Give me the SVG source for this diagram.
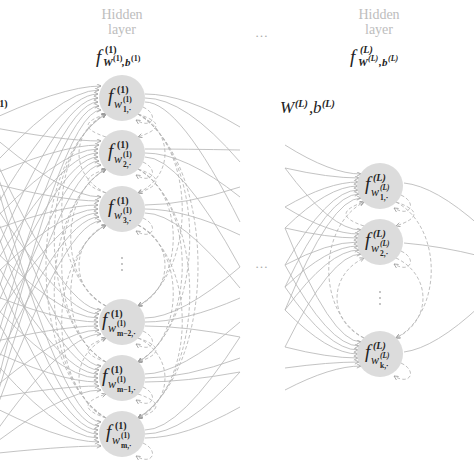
<svg xmlns="http://www.w3.org/2000/svg" width="474" height="474" viewBox="0 0 474 474" font-family="'Liberation Serif', 'DejaVu Serif', 'Times New Roman', serif">
<style>
.bg{fill:#fff}
.in{fill:none;stroke:#b8b8b8;stroke-width:0.85;marker-end:url(#ah)}
.out{fill:none;stroke:#b8b8b8;stroke-width:0.85}
.ds{fill:none;stroke:#b4b4b4;stroke-width:0.85;stroke-dasharray:3.5 2.2;marker-end:url(#ah)}
.node{fill:#dcdcdc}
text{font-family:'Liberation Serif','DejaVu Serif','Times New Roman',serif;fill:#222}
.hl{font-size:14px;fill:#bdbdbd;text-anchor:middle}
.dots{font-size:13px;fill:#aaa}
.nf{font-size:19px;font-style:italic}
.ns{font-size:10px;font-weight:bold}
.nw{font-size:12px;font-style:italic}
.nss{font-size:7.5px;font-weight:bold}
.lf{font-size:19px;font-style:italic}
.ls{font-size:10px;font-weight:bold}
.lw{font-size:11px;font-style:italic;font-weight:bold}
.lws{font-size:8px;font-weight:bold}
.bw{font-size:17px;font-style:italic}
.bs{font-size:10px;font-weight:bold}
.vd{fill:#aaa}
</style>
<defs>
<marker id="ah" viewBox="0 0 6 6" refX="5.5" refY="3" markerWidth="5" markerHeight="5" orient="auto" markerUnits="userSpaceOnUse"><path d="M0.5,0.5 L5.5,3 L0.5,5.5" fill="none" stroke="#999" stroke-width="0.9"/></marker>
</defs>
<rect class="bg" x="0" y="0" width="474" height="474"/>

<g id="labels">
<text class="hl" x="122" y="19">Hidden</text>
<text class="hl" x="122" y="34">layer</text>
<text class="hl" x="379" y="19">Hidden</text>
<text class="hl" x="379" y="34">layer</text>
<text class="dots" x="255" y="37">…</text>
<text class="dots" x="255" y="268">…</text>
<text><tspan class="lf" x="96" y="63">f</tspan><tspan class="ls" x="105" y="53">(1)</tspan><tspan class="lw" x="103" y="66">W</tspan><tspan class="lws" x="113" y="61">(1)</tspan><tspan class="lw" x="122" y="66">,</tspan><tspan class="lw" x="125" y="66">b</tspan><tspan class="lws" x="131" y="61">(1)</tspan></text>
<text><tspan class="lf" x="350" y="63">f</tspan><tspan class="ls" x="360" y="53" font-style="italic">(L)</tspan><tspan class="lw" x="358" y="66">W</tspan><tspan class="lws" x="368" y="61" font-style="italic">(L)</tspan><tspan class="lw" x="379" y="66">,</tspan><tspan class="lw" x="382" y="66">b</tspan><tspan class="lws" x="388" y="61" font-style="italic">(L)</tspan></text>
<text><tspan class="bw" x="280" y="113">W</tspan><tspan class="bs" x="295" y="107" font-style="italic">(L)</tspan><tspan class="bw" x="309" y="113" font-style="normal">,</tspan><tspan class="bw" x="313" y="113">b</tspan><tspan class="bs" x="322" y="107" font-style="italic">(L)</tspan></text>
<text class="bs" x="-4" y="107">(1)</text>
<circle class="vd" cx="122" cy="258" r="0.9"/><circle class="vd" cx="122" cy="264" r="0.9"/><circle class="vd" cx="122" cy="270" r="0.9"/>
<circle class="vd" cx="380" cy="292" r="0.9"/><circle class="vd" cx="380" cy="298" r="0.9"/><circle class="vd" cx="380" cy="304" r="0.9"/>
</g>

<g id="connectors">
<g id="inputs-layer1">
<path class="in" d="M-20,125 Q61,86 101,86"/><path class="in" d="M-20,180 Q59,90 99,90"/><path class="in" d="M-20,235 Q58,94 98,94"/><path class="in" d="M-20,290 Q58,98 98,98"/><path class="in" d="M-20,345 Q58,102 98,102"/><path class="in" d="M-20,400 Q59,106 99,106"/><path class="in" d="M-20,455 Q61,110 101,110"/>
<path class="in" d="M-20,125 Q61,141 101,141"/><path class="in" d="M-20,180 Q59,145 99,145"/><path class="in" d="M-20,235 Q58,149 98,149"/><path class="in" d="M-20,290 Q58,153 98,153"/><path class="in" d="M-20,345 Q58,157 98,157"/><path class="in" d="M-20,400 Q59,161 99,161"/><path class="in" d="M-20,455 Q61,165 101,165"/>
<path class="in" d="M-20,125 Q61,197 101,197"/><path class="in" d="M-20,180 Q59,201 99,201"/><path class="in" d="M-20,235 Q58,205 98,205"/><path class="in" d="M-20,290 Q58,209 98,209"/><path class="in" d="M-20,345 Q58,213 98,213"/><path class="in" d="M-20,400 Q59,217 99,217"/><path class="in" d="M-20,455 Q61,221 101,221"/>
<path class="in" d="M-20,125 Q61,310 101,310"/><path class="in" d="M-20,180 Q59,314 99,314"/><path class="in" d="M-20,235 Q58,318 98,318"/><path class="in" d="M-20,290 Q58,322 98,322"/><path class="in" d="M-20,345 Q58,326 98,326"/><path class="in" d="M-20,400 Q59,330 99,330"/><path class="in" d="M-20,455 Q61,334 101,334"/>
<path class="in" d="M-20,125 Q61,366 101,366"/><path class="in" d="M-20,180 Q59,370 99,370"/><path class="in" d="M-20,235 Q58,374 98,374"/><path class="in" d="M-20,290 Q58,378 98,378"/><path class="in" d="M-20,345 Q58,382 98,382"/><path class="in" d="M-20,400 Q59,386 99,386"/><path class="in" d="M-20,455 Q61,390 101,390"/>
<path class="in" d="M-20,125 Q61,422 101,422"/><path class="in" d="M-20,180 Q59,426 99,426"/><path class="in" d="M-20,235 Q58,430 98,430"/><path class="in" d="M-20,290 Q58,434 98,434"/><path class="in" d="M-20,345 Q58,438 98,438"/><path class="in" d="M-20,400 Q59,442 99,442"/><path class="in" d="M-20,455 Q61,446 101,446"/>
</g>
<g id="outputs-layer1">
<path class="out" d="M145,94 Q185,94 240,127"/><path class="out" d="M145,98 Q185,98 240,162"/><path class="out" d="M145,102 Q180,102 240,222"/>
<path class="out" d="M145,149 Q185,149 240,150"/><path class="out" d="M145,153 Q185,153 240,197"/><path class="out" d="M145,157 Q180,157 240,267"/>
<path class="out" d="M145,205 Q185,205 240,187"/><path class="out" d="M145,209 Q185,209 240,235"/><path class="out" d="M145,213 Q180,213 240,288"/>
<path class="out" d="M145,318 Q180,318 240,267"/><path class="out" d="M145,322 Q185,322 240,298"/><path class="out" d="M145,326 Q185,326 240,337"/>
<path class="out" d="M145,374 Q180,374 240,322"/><path class="out" d="M145,378 Q185,378 240,358"/><path class="out" d="M145,382 Q185,382 240,372"/>
<path class="out" d="M145,430 Q180,430 240,337"/><path class="out" d="M145,434 Q185,434 240,372"/><path class="out" d="M145,438 Q185,438 240,407"/>
</g>
<g id="inputs-layerL">
<path class="in" d="M285,145 Q331,174 361,174"/><path class="in" d="M285,168 Q329,178 359,178"/><path class="in" d="M285,207 Q328,182 358,182"/><path class="in" d="M285,228 Q328,186 358,186"/><path class="in" d="M285,265 Q328,190 358,190"/><path class="in" d="M285,287 Q329,194 359,194"/><path class="in" d="M285,310 Q331,198 361,198"/>
<path class="in" d="M285,168 Q331,230 361,230"/><path class="in" d="M285,207 Q329,234 359,234"/><path class="in" d="M285,228 Q328,238 358,238"/><path class="in" d="M285,265 Q328,242 358,242"/><path class="in" d="M285,287 Q328,246 358,246"/><path class="in" d="M285,310 Q329,250 359,250"/><path class="in" d="M285,347 Q331,254 361,254"/>
<path class="in" d="M285,228 Q331,342 361,342"/><path class="in" d="M285,265 Q329,346 359,346"/><path class="in" d="M285,287 Q328,350 358,350"/><path class="in" d="M285,310 Q328,354 358,354"/><path class="in" d="M285,347 Q328,358 358,358"/><path class="in" d="M285,368 Q329,362 359,362"/><path class="in" d="M285,390 Q331,366 361,366"/>
</g>
<g id="outputs-layerL">
<path class="out" d="M404,183 Q435,186 480,226"/><path class="out" d="M404,243 Q440,246 480,256"/><path class="out" d="M404,352 Q435,348 480,306"/>
</g>
<g id="recurrent-layer1">
<path class="ds" d="M138,114 C162,122 162,129 138,137"/><path class="ds" d="M138,114 C174,131 174,176 138,193"/><path class="ds" d="M138,114 C197,148 197,272 138,306"/><path class="ds" d="M138,114 C207,156 207,320 138,362"/><path class="ds" d="M138,114 C218,164 218,368 138,418"/>
<path class="ds" d="M138,169 C162,177 162,185 138,193"/><path class="ds" d="M138,169 C185,194 185,281 138,306"/><path class="ds" d="M138,169 C197,203 197,328 138,362"/><path class="ds" d="M138,169 C207,211 207,376 138,418"/>
<path class="ds" d="M138,225 C174,242 174,289 138,306"/><path class="ds" d="M138,225 C185,250 185,337 138,362"/><path class="ds" d="M138,225 C197,259 197,384 138,418"/>
<path class="ds" d="M138,338 C162,346 162,354 138,362"/><path class="ds" d="M138,338 C174,355 174,401 138,418"/><path class="ds" d="M138,394 C162,402 162,410 138,418"/>
<path class="ds" d="M106,137 C82,129 82,122 106,114"/><path class="ds" d="M106,193 C70,176 70,131 106,114"/><path class="ds" d="M106,306 C47,272 47,148 106,114"/><path class="ds" d="M106,362 C37,320 37,156 106,114"/><path class="ds" d="M106,418 C26,368 26,164 106,114"/>
<path class="ds" d="M106,193 C82,185 82,177 106,169"/><path class="ds" d="M106,306 C59,281 59,194 106,169"/><path class="ds" d="M106,362 C47,328 47,203 106,169"/><path class="ds" d="M106,418 C37,376 37,211 106,169"/>
<path class="ds" d="M106,306 C70,289 70,242 106,225"/><path class="ds" d="M106,362 C59,337 59,250 106,225"/><path class="ds" d="M106,418 C47,384 47,259 106,225"/>
<path class="ds" d="M106,362 C82,354 82,346 106,338"/><path class="ds" d="M106,418 C70,401 70,355 106,338"/><path class="ds" d="M106,418 C82,410 82,402 106,394"/>
<path class="ds" d="M143,107 C160,115 152,130 136,120"/><path class="ds" d="M143,162 C160,170 152,185 136,175"/><path class="ds" d="M143,218 C160,226 152,241 136,231"/><path class="ds" d="M143,331 C160,339 152,354 136,344"/><path class="ds" d="M143,387 C160,395 152,410 136,400"/><path class="ds" d="M143,443 C160,451 152,466 136,456"/>
</g>
<g id="recurrent-layerL">
<path class="ds" d="M396,202 C420,210 420,218 396,226"/><path class="ds" d="M396,202 C443,227 443,313 396,338"/><path class="ds" d="M396,258 C432,275 432,321 396,338"/>
<path class="ds" d="M364,226 C340,218 340,210 364,202"/><path class="ds" d="M364,338 C317,313 317,227 364,202"/><path class="ds" d="M364,338 C328,321 328,275 364,258"/>
<path class="ds" d="M401,195 C418,203 410,218 394,208"/><path class="ds" d="M401,251 C418,259 410,274 394,264"/><path class="ds" d="M401,363 C418,371 410,386 394,376"/>
</g>
</g>

<g id="h1-1" transform="translate(122,98)"><circle class="node" r="23"/><text class="nf" x="-14" y="4">f</text><text class="ns" x="-5" y="-5">(1)</text><text class="nw" x="-8" y="10">w</text><text class="nss" x="1" y="4">(1)</text><text class="nss" x="1" y="14">1,·</text></g>
<g id="h1-2" transform="translate(122,153)"><circle class="node" r="23"/><text class="nf" x="-14" y="4">f</text><text class="ns" x="-5" y="-5">(1)</text><text class="nw" x="-8" y="10">w</text><text class="nss" x="1" y="4">(1)</text><text class="nss" x="1" y="14">2,·</text></g>
<g id="h1-3" transform="translate(122,209)"><circle class="node" r="23"/><text class="nf" x="-14" y="4">f</text><text class="ns" x="-5" y="-5">(1)</text><text class="nw" x="-8" y="10">w</text><text class="nss" x="1" y="4">(1)</text><text class="nss" x="1" y="14">3,·</text></g>
<g id="h1-m2" transform="translate(122,322)"><circle class="node" r="23"/><text class="nf" x="-20" y="4">f</text><text class="ns" x="-11" y="-5">(1)</text><text class="nw" x="-14" y="10">w</text><text class="nss" x="-5" y="4">(1)</text><text class="nss" x="-5" y="14">m−2,·</text></g>
<g id="h1-m1" transform="translate(122,378)"><circle class="node" r="23"/><text class="nf" x="-20" y="4">f</text><text class="ns" x="-11" y="-5">(1)</text><text class="nw" x="-14" y="10">w</text><text class="nss" x="-5" y="4">(1)</text><text class="nss" x="-5" y="14">m−1,·</text></g>
<g id="h1-m" transform="translate(122,434)"><circle class="node" r="23"/><text class="nf" x="-16" y="4">f</text><text class="ns" x="-7" y="-5">(1)</text><text class="nw" x="-10" y="10">w</text><text class="nss" x="-1" y="4">(1)</text><text class="nss" x="-1" y="14">m,·</text></g>

<g id="hL-1" transform="translate(380,186)"><circle class="node" r="23"/><text class="nf" x="-15" y="4">f</text><text class="ns" x="-7" y="-5" font-style="italic">(L)</text><text class="nw" x="-9" y="10">w</text><text class="nss" x="0" y="4" font-style="italic">(L)</text><text class="nss" x="0" y="14">1,·</text></g>
<g id="hL-2" transform="translate(380,242)"><circle class="node" r="23"/><text class="nf" x="-15" y="4">f</text><text class="ns" x="-7" y="-5" font-style="italic">(L)</text><text class="nw" x="-9" y="10">w</text><text class="nss" x="0" y="4" font-style="italic">(L)</text><text class="nss" x="0" y="14">2,·</text></g>
<g id="hL-k" transform="translate(380,354)"><circle class="node" r="23"/><text class="nf" x="-15" y="4">f</text><text class="ns" x="-7" y="-5" font-style="italic">(L)</text><text class="nw" x="-9" y="10">w</text><text class="nss" x="0" y="4" font-style="italic">(L)</text><text class="nss" x="0" y="14">k,·</text></g>
</svg>
